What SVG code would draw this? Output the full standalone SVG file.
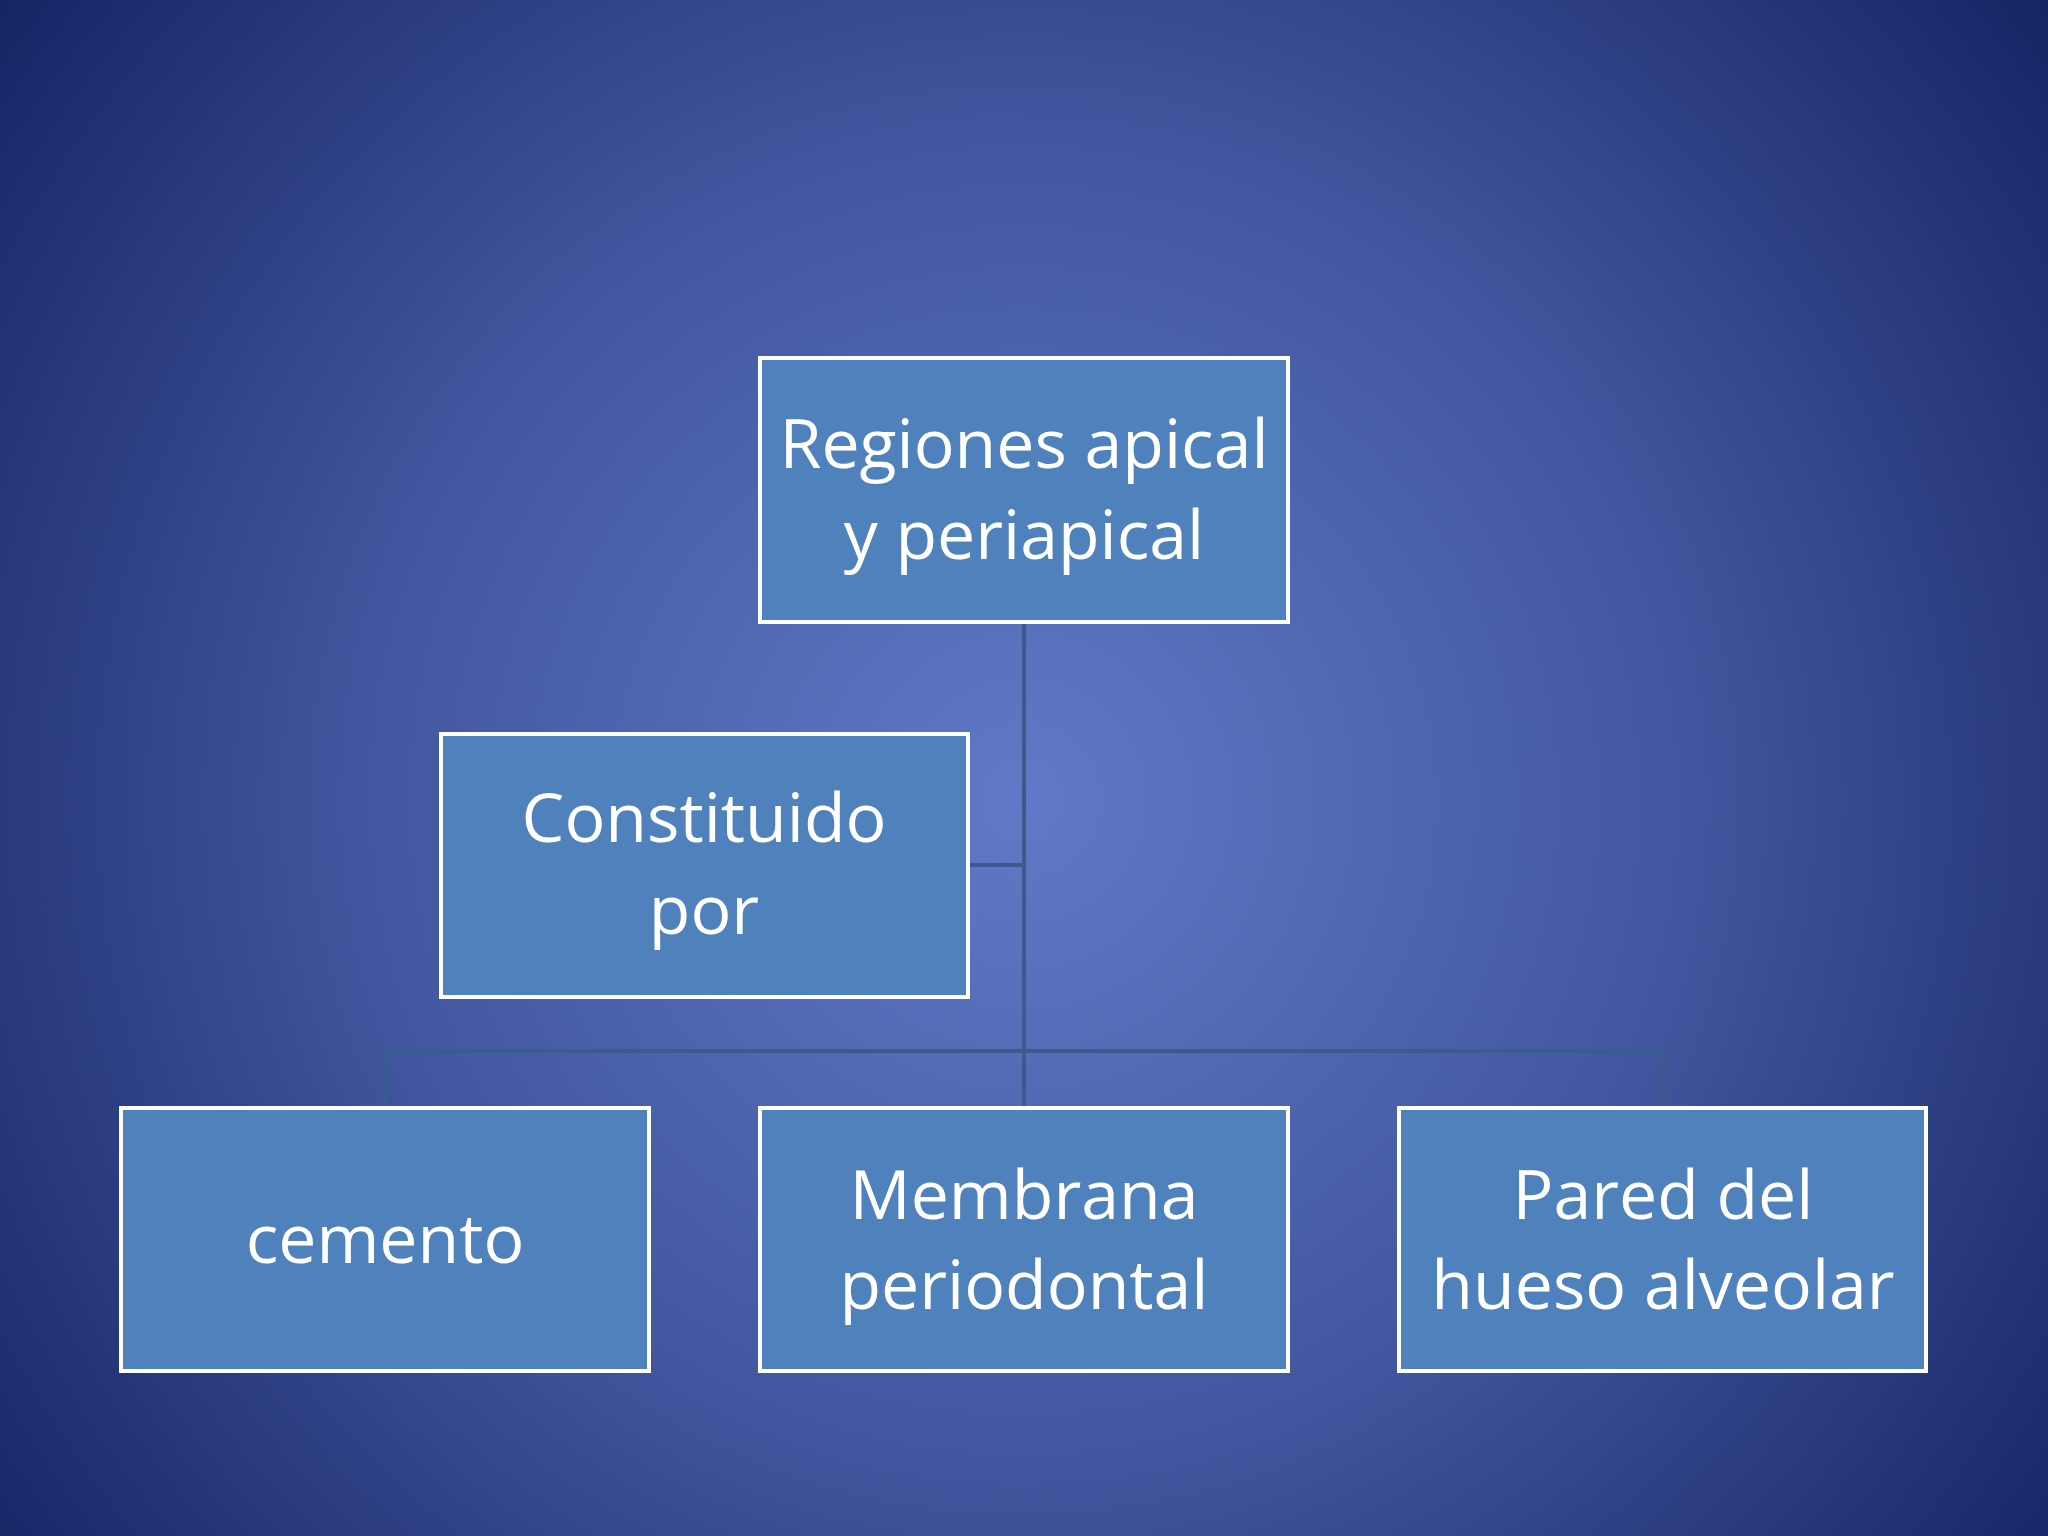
<svg xmlns="http://www.w3.org/2000/svg" width="2048" height="1536" viewBox="0 0 2048 1536">
<defs>
<radialGradient id="bg" cx="1024" cy="800" r="1300" gradientUnits="userSpaceOnUse">
<stop offset="0" stop-color="#6179c6"/>
<stop offset="0.5" stop-color="#4357a0"/>
<stop offset="1" stop-color="#152463"/>
</radialGradient>
<style>
.box{fill:#4f81bd;stroke:#fff;stroke-width:4}
.t{font-family:"Open Sans","Noto Sans",sans-serif;font-size:68px;fill:#fff;text-anchor:middle}
.c{stroke:#3a5b8f;stroke-width:4;fill:none}
</style>
</defs>
<rect width="2048" height="1536" fill="url(#bg)"/>
<g id="connectors">
<path class="c" d="M1024 622V1108M968 865H1024M385 1108V1051H1663V1108"/>
</g>
<g id="n1"><rect class="box" x="760" y="358" width="528" height="264"/><text class="t" x="1024" y="468">Regiones apical</text><text class="t" x="1024" y="559">y periapical</text></g>
<g id="n2"><rect class="box" x="441" y="734" width="527" height="263"/><text class="t" x="704" y="842">Constituido</text><text class="t" x="704" y="934">por</text></g>
<g id="n3"><rect class="box" x="121" y="1108" width="528" height="263"/><text class="t" x="385" y="1263">cemento</text></g>
<g id="n4"><rect class="box" x="760" y="1108" width="528" height="263"/><text class="t" x="1024" y="1219">Membrana</text><text class="t" x="1024" y="1309">periodontal</text></g>
<g id="n5"><rect class="box" x="1399" y="1108" width="527" height="263"/><text class="t" x="1663" y="1219">Pared del</text><text class="t" x="1663" y="1309">hueso alveolar</text></g>
</svg>
